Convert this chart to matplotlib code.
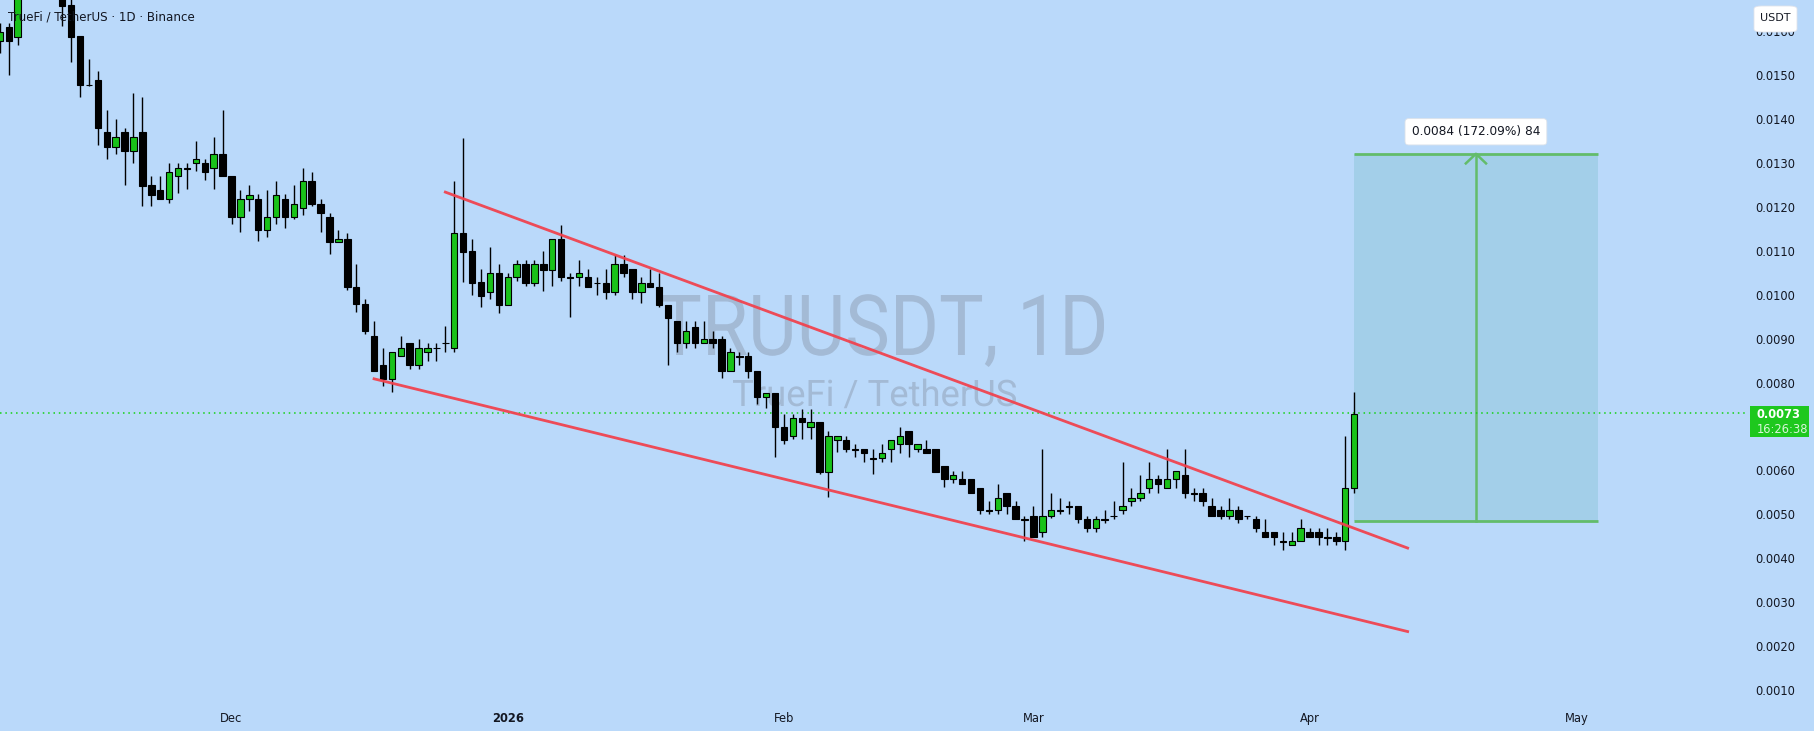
import matplotlib
matplotlib.use('agg')
import numpy as np
import pandas as pd
import matplotlib.pyplot as plt
import matplotlib.dates as mdates
from matplotlib.patches import Rectangle, FancyBboxPatch, PathPatch
from matplotlib.textpath import TextPath
from matplotlib.font_manager import FontProperties
from matplotlib.transforms import Affine2D

# TRUUSDT daily candles, 2025-11-05 .. 2026-04-06
first_day = '2025-11-05'
opens = [.01579, .01609, .01588, .01700, .01810, .01780, .01750, .01720, .01660, .01589,
         .01478, .01489, .01370, .01337, .01370, .01328, .01370, .01249, .01238, .01219,
         .01270, .01288, .01299, .01299, .01288, .01320, .01270, .01178, .01219, .01219,
         .01148, .01178, .01219, .01178, .01198, .01258, .01207, .01178, .01119, .01128,
         .01018, .00978, .00907, .00839, .00809, .00860, .00889, .00839, .00869, .00878,
         .00889, .00878, .01140, .01100, .01028, .01007, .01049, .00977, .01040, .01069,
         .01027, .01069, .01057, .01128, .01040, .01040, .01040, .01027, .01027, .01007,
         .01069, .01058, .01007, .01027, .01018, .00977, .00939, .00889, .00927, .00889,
         .00898, .00898, .00827, .00860, .00860, .00827, .00768, .00777, .00698, .00677,
         .00718, .00698, .00709, .00597, .00668, .00668, .00648, .00648, .00627, .00627,
         .00648, .00659, .00690, .00649, .00649, .00649, .00610, .00580, .00580, .00580,
         .00559, .00509, .00509, .00548, .00518, .00488, .00497, .00459, .00497, .00509,
         .00518, .00518, .00488, .00468, .00488, .00497, .00509, .00529, .00538, .00559,
         .00580, .00559, .00580, .00589, .00548, .00548, .00518, .00509, .00497, .00509,
         .00497, .00488, .00459, .00459, .00438, .00430, .00438, .00459, .00459, .00447,
         .00447, .00438, .00559]
highs = [.01620, .01618, .01760, .01850, .01880, .01820, .01790, .01780, .01675, .01589,
         .01538, .01510, .01421, .01400, .01379, .01459, .01450, .01270, .01270, .01299,
         .01299, .01299, .01350, .01308, .01359, .01420, .01270, .01238, .01249, .01229,
         .01238, .01258, .01229, .01249, .01288, .01279, .01219, .01187, .01148, .01140,
         .01069, .00990, .00939, .00878, .00869, .00907, .00889, .00898, .00889, .00889,
         .00928, .01259, .01358, .01128, .01058, .01108, .01069, .01049, .01078, .01078,
         .01078, .01099, .01128, .01158, .01049, .01078, .01058, .01040, .01058, .01090,
         .01090, .01058, .01040, .01058, .01049, .00977, .00939, .00939, .00939, .00939,
         .00918, .00907, .00878, .00869, .00869, .00827, .00777, .00777, .00728, .00728,
         .00739, .00739, .00709, .00689, .00677, .00677, .00659, .00648, .00648, .00659,
         .00668, .00698, .00690, .00660, .00669, .00649, .00610, .00598, .00598, .00580,
         .00559, .00530, .00568, .00548, .00529, .00497, .00518, .00649, .00548, .00538,
         .00529, .00518, .00497, .00497, .00509, .00529, .00619, .00559, .00589, .00619,
         .00589, .00649, .00598, .00649, .00559, .00559, .00538, .00518, .00538, .00518,
         .00497, .00497, .00488, .00459, .00459, .00459, .00488, .00468, .00468, .00468,
         .00459, .00678, .00778]
lows = [.01550, .01500, .01569, .01690, .01740, .01720, .01700, .01611, .01531, .01451,
        .01476, .01340, .01310, .01321, .01251, .01301, .01201, .01201, .01219, .01210,
        .01231, .01240, .01281, .01261, .01240, .01270, .01160, .01142, .01190, .01122,
        .01131, .01160, .01151, .01172, .01181, .01201, .01142, .01092, .01119, .01011,
        .00960, .00910, .00827, .00791, .00779, .00860, .00830, .00830, .00848, .00848,
        .00870, .00870, .01030, .00999, .00971, .00990, .00959, .00977, .01031, .01020,
        .01020, .01009, .01020, .01031, .00950, .01020, .01018, .00999, .00990, .00999,
        .01040, .00990, .00980, .01018, .00971, .00841, .00870, .00879, .00879, .00889,
        .00879, .00811, .00827, .00841, .00811, .00750, .00741, .00630, .00661, .00671,
        .00671, .00671, .00591, .00540, .00641, .00641, .00630, .00620, .00591, .00620,
        .00620, .00639, .00630, .00641, .00639, .00597, .00561, .00570, .00568, .00548,
        .00500, .00500, .00500, .00500, .00488, .00440, .00447, .00449, .00491, .00500,
        .00500, .00479, .00459, .00459, .00479, .00488, .00500, .00518, .00529, .00548,
        .00548, .00559, .00559, .00538, .00529, .00518, .00497, .00488, .00488, .00479,
        .00488, .00459, .00447, .00430, .00419, .00430, .00438, .00447, .00430, .00430,
        .00430, .00419, .00549]
closes = [.01599, .01579, .01700, .01810, .01780, .01750, .01720, .01658, .01588, .01478,
          .01477, .01379, .01337, .01359, .01328, .01359, .01248, .01228, .01219, .01279,
          .01288, .01287, .01308, .01279, .01320, .01270, .01178, .01219, .01228, .01148,
          .01178, .01228, .01178, .01207, .01258, .01207, .01187, .01119, .01128, .01018,
          .00978, .00918, .00827, .00809, .00869, .00878, .00839, .00878, .00878, .00879,
          .00890, .01140, .01098, .01027, .00998, .01049, .00977, .01040, .01069, .01027,
          .01069, .01057, .01128, .01040, .01039, .01049, .01018, .01027, .01007, .01069,
          .01049, .01007, .01027, .01018, .00977, .00948, .00889, .00918, .00889, .00898,
          .00889, .00827, .00869, .00859, .00827, .00768, .00777, .00698, .00668, .00718,
          .00709, .00709, .00597, .00677, .00677, .00648, .00647, .00639, .00626, .00639,
          .00668, .00677, .00660, .00660, .00639, .00597, .00580, .00589, .00568, .00548,
          .00509, .00508, .00538, .00518, .00488, .00487, .00447, .00497, .00509, .00508,
          .00517, .00488, .00468, .00488, .00487, .00496, .00518, .00538, .00548, .00580,
          .00568, .00580, .00598, .00548, .00547, .00529, .00497, .00497, .00509, .00488,
          .00496, .00468, .00447, .00447, .00437, .00438, .00468, .00447, .00447, .00446,
          .00438, .00559, .00728]

# drawings
upper_dates = ['2025-12-25 00:00', '2026-04-12 00:00']
upper_prices = [0.012337, 0.004229]
lower_dates = ['2025-12-17 00:00', '2026-04-12 00:00']
lower_prices = [0.008084, 0.002327]
target_dates = ['2026-04-06 00:00', '2026-05-03 08:00']
target_prices = [0.004855, 0.013210]
target_label = '0.0084 (172.09%) 84'
last_price = 0.0073
last_label = '0.0073'
countdown = '16:26:38'

month_ticks = ['2025-12-01', '2026-01-01', '2026-02-01', '2026-03-01', '2026-04-01', '2026-05-01']
month_labels = ['Dec', '2026', 'Feb', 'Mar', 'Apr', 'May']
# 0.0070 sits under the last-price tag
price_ticks = [0.001, 0.002, 0.003, 0.004, 0.005, 0.006, 0.008, 0.009, 0.010,
               0.011, 0.012, 0.013, 0.014, 0.015, 0.016]

BG = '#bad9fa'
GREEN = '#19c219'
RED = '#f0434f'
TXT = '#131722'
W, H = 1815, 731


def to_num(lst):
    return mdates.date2num(pd.to_datetime(lst, format='ISO8601'))


opens = np.array(opens); highs = np.array(highs)
lows = np.array(lows); closes = np.array(closes)
dates = pd.date_range(first_day, periods=len(opens), freq='D')
x = mdates.date2num(dates)

fig = plt.figure(figsize=(W / 100, H / 100), dpi=100, facecolor=BG)
ax = fig.add_axes([0, 28 / H, 1747 / W, 703 / H])
ax.set_facecolor(BG)

dec1 = mdates.date2num(pd.Timestamp('2025-12-01'))
px_day = 8.91
px_price = 43900.0
ax.set_xlim(dec1 - 231.5 / px_day, dec1 + (1747 - 231.5) / px_day)
ax.set_ylim(0.0150 - (703 - 75.2) / px_price, 0.0150 + 75.2 / px_price)


def pixel_text(s, left, baseline, width, cap, color, weight='normal'):
    fp = FontProperties(family='Roboto', weight=weight)
    tp = TextPath((0, 0), s, size=100, prop=fp)
    cap_h = TextPath((0, 0), 'T', size=100, prop=fp).get_extents().y1
    ext = tp.get_extents()
    tr = Affine2D().translate(-ext.x0, 0).scale(width / ext.width, cap / cap_h).translate(left, H - baseline)
    p = PathPatch(tp, transform=tr, facecolor=color, edgecolor='none', zorder=0.5)
    ax.add_artist(p)


# watermark
pixel_text('TRUUSDT, 1D', 659, 355, 445, 60, '#a3bad5')
pixel_text('TrueFi / TetherUS', 733, 406, 283, 26, '#a3bad5')

# target box
t0, t1 = to_num(target_dates)
ax.add_patch(Rectangle((t0, target_prices[0]), t1 - t0, target_prices[1] - target_prices[0],
                       facecolor='#a3cfe9', edgecolor='none', zorder=1))
ax.hlines(target_prices, t0, t1, color='#63bc6a', lw=2, zorder=1.2)
tm = (t0 + t1) / 2
ax.plot([tm, tm], target_prices, color='#63bc6a', lw=1.8, zorder=1.2)
ax.plot([tm - 11 / px_day, tm, tm + 11 / px_day],
        [target_prices[1] - 10.5 / px_price, target_prices[1], target_prices[1] - 10.5 / px_price],
        color='#63bc6a', lw=1.8, zorder=1.2, solid_capstyle='butt')
ax.text(tm, target_prices[1] + 22 / px_price, target_label, ha='center', va='center',
        fontsize=8.7, color=TXT, zorder=6,
        bbox=dict(boxstyle='round,pad=0.55,rounding_size=0.3', fc='white', ec='#dde3ea', lw=0.6))

# last price line
ax.axhline(last_price, color='#14d214', lw=1.1, ls=(0, (1, 2.5)), zorder=1.6)

# candles
up = closes >= opens
colors = np.where(up, GREEN, 'black')
body = np.maximum(np.abs(closes - opens), 0.000004)
ax.vlines(x, lows, highs, color='black', lw=1.0, zorder=2)
ax.bar(x, body, bottom=np.minimum(opens, closes), width=0.72, color=colors,
       edgecolor='black', linewidth=0.8, zorder=3)

# wedge lines
ax.plot(to_num(upper_dates), upper_prices, color=RED, lw=2, alpha=0.95, zorder=4)
ax.plot(to_num(lower_dates), lower_prices, color=RED, lw=2, alpha=0.95, zorder=4)

# axes
for s in ax.spines.values():
    s.set_visible(False)
ax.yaxis.tick_right()
ax.set_yticks(price_ticks)
ax.yaxis.set_major_formatter(matplotlib.ticker.FormatStrFormatter('%.4f'))
ax.tick_params(axis='y', length=0, pad=6, labelsize=8.3, labelcolor=TXT)
ax.set_xticks(to_num(month_ticks))
ax.set_xticklabels(month_labels)
ax.tick_params(axis='x', length=0, pad=6.5, labelsize=8.3, labelcolor=TXT)
ax.get_xticklabels()[1].set_fontweight('bold')

# title
fig.text(8 / W, 1 - 17 / H, 'TrueFi / TetherUS · 1D · Binance', ha='left', va='center',
         fontsize=8.6, color=TXT)

# USDT box (hides most of the 0.0160 label, as on the reference)
fig.patches.append(FancyBboxPatch((1754 / W, 1 - 32 / H), 43 / W, 26 / H,
                                  boxstyle='round,pad=0,rounding_size=0.004', transform=fig.transFigure,
                                  fc='white', ec='#e0e3eb', lw=0.6, zorder=5))
fig.text(1775.5 / W, 1 - 18 / H, 'USDT', ha='center', va='center', fontsize=8, color=TXT, zorder=6)

# last price tag
fig.patches.append(Rectangle((1750 / W, 1 - 437 / H), 59 / W, 31 / H, transform=fig.transFigure,
                             fc='#1ec81e', ec='none', zorder=5))
fig.text(1757 / W, 1 - 414 / H, last_label, ha='left', va='center', fontsize=8.3,
         fontweight='bold', color='white', zorder=6)
fig.text(1757 / W, 1 - 429.5 / H, countdown, ha='left', va='center', fontsize=8.3,
         color='#d9f7d9', zorder=6)

fig.savefig('out.png', dpi=100, facecolor=BG)
